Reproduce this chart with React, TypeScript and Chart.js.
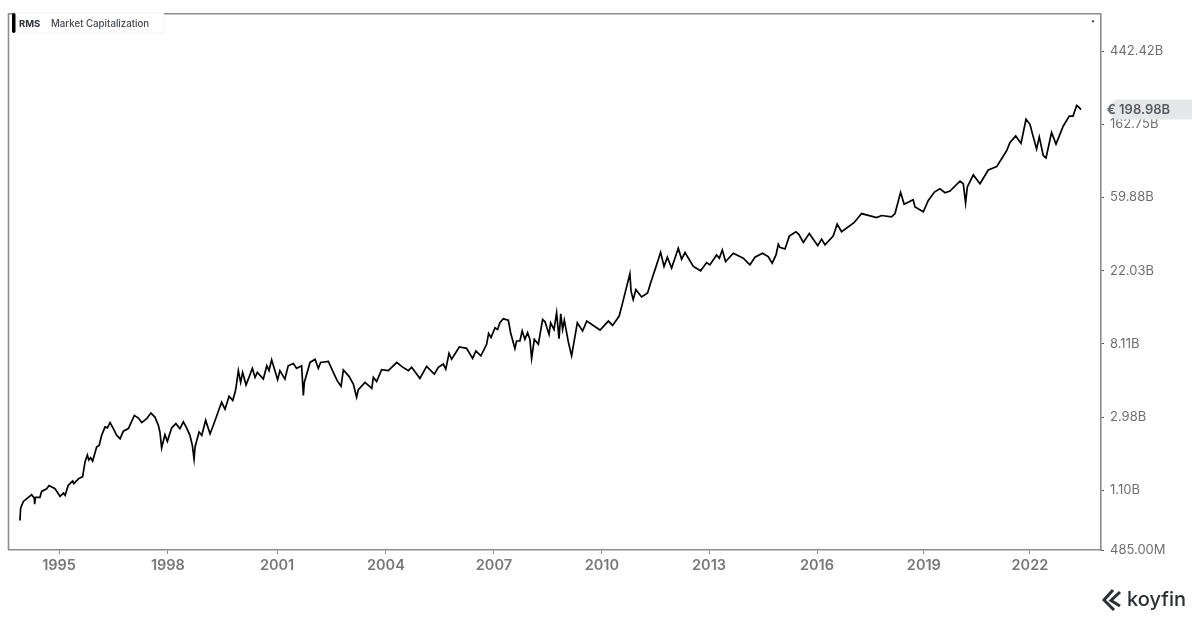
import React, { useEffect, useRef } from 'react';
import { Chart, registerables } from 'chart.js';

Chart.register(...registerables);

// x is the trading session counted from the left edge of the axis
const sessions = [
    80, 85, 104, 139, 162, 181, 183, 188, 220, 232, 267, 284, 326, 361, 384, 396, 418, 449, 458, 489,
    519, 536, 552, 562, 575, 589, 617, 635, 652, 676, 692, 711, 734, 757, 781, 804, 839, 881, 909, 933,
    967, 997, 1025, 1049, 1060, 1072, 1095, 1112, 1142, 1172, 1200, 1224, 1247, 1270, 1287, 1299, 1306, 1334, 1353, 1380,
    1411, 1434, 1469, 1492, 1516, 1544, 1570, 1586, 1593, 1609, 1625, 1639, 1663, 1707, 1726, 1742, 1784, 1808, 1824, 1842,
    1884, 1900, 1935, 1958, 1994, 2017, 2052, 2064, 2071, 2111, 2146, 2169, 2185, 2239, 2274, 2301, 2328, 2344, 2384, 2414,
    2437, 2449, 2496, 2543, 2554, 2577, 2612, 2659, 2718, 2752, 2799, 2822, 2880, 2927, 2981, 3009, 3044, 3061, 3084, 3102,
    3156, 3207, 3249, 3272, 3307, 3347, 3361, 3378, 3406, 3424, 3440, 3464, 3499, 3515, 3545, 3557, 3580, 3596, 3615, 3634,
    3650, 3662, 3681, 3709, 3739, 3756, 3784, 3795, 3819, 3837, 3854, 3866, 3879, 3891, 3919, 3942, 3982, 4019, 4048, 4141,
    4199, 4229, 4275, 4299, 4350, 4358, 4373, 4392, 4432, 4474, 4495, 4537, 4565, 4589, 4612, 4642, 4689, 4712, 4736, 4794,
    4845, 4887, 4910, 4957, 4976, 4997, 5020, 5074, 5144, 5190, 5225, 5279, 5318, 5346, 5373, 5389, 5400, 5436, 5466, 5512,
    5534, 5564, 5606, 5665, 5692, 5716, 5773, 5801, 5832, 5919, 5972, 6077, 6112, 6182, 6206, 6245, 6270, 6333, 6346, 6404,
    6439, 6482, 6520, 6556, 6591, 6661, 6684, 6700, 6712, 6754, 6801, 6859, 6918, 6987, 7011, 7051, 7088, 7123, 7151, 7170,
    7197, 7216, 7244, 7263, 7302, 7333, 7384, 7426, 7452, 7478, 7494, 7508,
];

// market cap in billions of euro
const marketCap = [
    0.725, 0.86, 0.942, 0.996, 1.032, 0.982, 0.908, 0.996, 0.996, 1.08, 1.12, 1.17, 1.12, 1.009, 1.055, 1.023, 1.17, 1.247, 1.202, 1.282,
    1.322, 1.62, 1.773, 1.657, 1.71, 1.635, 1.981, 2.027, 2.323, 2.607, 2.572, 2.763, 2.547, 2.323, 2.219, 2.459, 2.547, 3.05, 2.94, 2.763,
    2.913, 3.147, 2.98, 2.667, 2.43, 1.954, 2.343, 2.142, 2.572, 2.726, 2.547, 2.79, 2.572, 2.323, 2.027, 1.68, 1.981, 2.43, 2.323, 2.85,
    2.374, 2.667, 3.23, 3.65, 3.32, 3.96, 3.735, 4.18, 4.476, 5.62, 4.79, 5.49, 4.62, 5.8, 5.13, 5.49, 5.01, 6.01, 5.62, 6.52,
    4.97, 5.62, 5.01, 6.01, 6.2, 5.8, 6.01, 4.0, 4.79, 6.29, 6.57, 5.8, 6.29, 6.37, 5.49, 4.905, 4.54, 5.67, 5.2, 4.68,
    3.906, 4.34, 4.79, 4.416, 5.13, 4.84, 5.7, 5.62, 6.29, 5.96, 5.62, 5.88, 5.06, 5.96, 5.36, 5.88, 6.15, 5.74, 7.13, 6.57,
    7.77, 7.62, 6.64, 7.36, 6.88, 8.05, 9.35, 8.82, 10.1, 9.87, 10.81, 11.41, 11.21, 9.44, 7.6, 8.43, 8.43, 9.66, 8.62, 9.44,
    8.62, 6.64, 8.62, 8.05, 11.3, 10.96, 9.22, 10.81, 9.87, 12.38, 8.7, 12.21, 9.87, 11.21, 8.32, 6.88, 10.81, 9.66, 11.06, 9.79,
    11.06, 10.42, 11.85, 14.18, 21.1, 16.7, 14.83, 16.98, 15.38, 16.24, 18.6, 23.84, 28.3, 23.33, 26.47, 22.8, 29.9, 25.76, 28.2, 23.33,
    21.98, 24.6, 23.84, 27.31, 26.1, 29.2, 24.97, 27.95, 26.1, 23.84, 26.47, 27.95, 26.7, 24.4, 27.31, 31.6, 30.3, 29.6, 35.3, 37.5,
    36.1, 32.4, 36.6, 31.0, 33.9, 31.3, 35.3, 41.6, 37.5, 42.4, 48.05, 45.5, 46.8, 46.0, 48.05, 64.2, 54.5, 58.1, 52.6, 49.2,
    57.5, 64.5, 67.5, 63.9, 65.4, 74.8, 72.2, 55.5, 69.0, 81.5, 72.2, 87.2, 91.2, 113.3, 127, 138.9, 125.3, 174.2, 162.75, 140.8,
    116, 137, 106, 102.7, 145.4, 124.1, 159, 182.2, 182, 210.6, 205, 198.98,
];

const yearTicks = [354, 1116, 1880, 2642, 3398, 4154, 4904, 5660, 6408, 7150];
const yearLabels = ['1995', '1998', '2001', '2004', '2007', '2010', '2013', '2016', '2019', '2022'];

const capTicks = [442.42, 162.75, 59.88, 22.03, 8.11, 2.98, 1.1, 0.485];
const capLabels = ['442.42B', '162.75B', '59.88B', '22.03B', '8.11B', '2.98B', '1.10B', '485.00M'];

const lastLabel = '€ 198.98B';
const FONT = 'Inter, "Noto Sans", sans-serif';

// frame, last value tag, legend and logo
const decorations = {
    id: 'decorations',
    afterDatasetsDraw(chart: Chart) {
        const { ctx, chartArea: a } = chart;
        ctx.save();

        ctx.strokeStyle = '#8c8c8c';
        ctx.lineWidth = 1.6;
        ctx.beginPath();
        ctx.moveTo(a.left, a.bottom);
        ctx.lineTo(a.left, a.top);
        ctx.lineTo(a.right, a.top);
        ctx.stroke();

        // last value tag
        const y = chart.scales.y.getPixelForValue(marketCap[marketCap.length - 1]);
        ctx.fillStyle = '#e6e7e8';
        ctx.beginPath();
        ctx.moveTo(1105, y);
        ctx.lineTo(1115, y - 10);
        ctx.lineTo(1192, y - 10);
        ctx.lineTo(1192, y + 10);
        ctx.lineTo(1115, y + 10);
        ctx.closePath();
        ctx.fill();
        ctx.fillStyle = '#555a5f';
        ctx.font = `600 13px ${FONT}`;
        ctx.textAlign = 'left';
        ctx.textBaseline = 'middle';
        ctx.fillText(lastLabel, 1107, y + 1);

        // legend
        ctx.strokeStyle = '#f0f0f0';
        ctx.lineWidth = 1;
        ctx.fillStyle = '#ffffff';
        ctx.beginPath();
        ctx.roundRect(13, 13, 151, 20, 2);
        ctx.fill();
        ctx.stroke();
        ctx.fillStyle = '#000000';
        ctx.beginPath();
        ctx.roundRect(12, 13, 3.5, 20, 2);
        ctx.fill();
        ctx.fillStyle = '#2f3338';
        ctx.font = `700 9.5px ${FONT}`;
        ctx.fillText('RMS', 19, 24);
        ctx.font = `500 9.7px ${FONT}`;
        ctx.fillStyle = '#44484d';
        ctx.fillText('Market Capitalization', 51, 24);

        // logo
        ctx.strokeStyle = '#2b2f33';
        ctx.lineWidth = 3;
        ctx.lineJoin = 'miter';
        ctx.beginPath();
        ctx.moveTo(1113, 590);
        ctx.lineTo(1104, 600);
        ctx.lineTo(1114, 610);
        ctx.moveTo(1120, 592);
        ctx.lineTo(1111, 600.5);
        ctx.lineTo(1120, 606);
        ctx.stroke();
        ctx.fillStyle = '#2b2f33';
        ctx.font = `500 20px ${FONT}`;
        ctx.textBaseline = 'alphabetic';
        ctx.fillText('koyfin', 1127, 606);

        ctx.restore();
    },
};

const App: React.FC = () => {
    const chartRef = useRef<HTMLCanvasElement | null>(null);

    useEffect(() => {
        const ctx = chartRef.current?.getContext('2d');

        if (!ctx) {
            return;
        }

        const myChart = new Chart(ctx, {
            type: 'line',
            data: {
                datasets: [
                    {
                        label: 'RMS Market Capitalization',
                        data: sessions.map((s, i) => ({ x: s, y: marketCap[i] })),
                        borderColor: '#000000',
                        borderWidth: 1.7,
                        pointRadius: 0,
                        tension: 0,
                    },
                    {
                        label: 'stray',
                        data: [{ x: 7592, y: 664 }],
                        borderColor: '#333333',
                        backgroundColor: '#333333',
                        pointRadius: 0.7,
                        showLine: false,
                    },
                ],
            },
            plugins: [decorations],
            options: {
                responsive: false,
                animation: false,
                layout: { padding: { left: 8.5, top: 8.5, right: 0, bottom: 0 } },
                plugins: {
                    legend: { display: false },
                    tooltip: { enabled: false },
                },
                scales: {
                    x: {
                        type: 'linear',
                        min: 0,
                        max: 7648,
                        afterBuildTicks: (scale) => {
                            scale.ticks = yearTicks.map((value) => ({ value }));
                        },
                        afterFit: (scale) => {
                            scale.height = 70;
                        },
                        border: { color: '#8c8c8c', width: 1.6 },
                        grid: { drawOnChartArea: false, color: '#8c8c8c', tickLength: 4 },
                        ticks: {
                            autoSkip: false,
                            maxRotation: 0,
                            padding: 3,
                            color: '#777777',
                            font: { family: FONT, size: 14.5, weight: 600 },
                            callback: (value) => yearLabels[yearTicks.indexOf(Number(value))],
                        },
                    },
                    y: {
                        type: 'logarithmic',
                        position: 'right',
                        min: 0.485,
                        max: 736,
                        afterBuildTicks: (scale) => {
                            scale.ticks = capTicks.map((value) => ({ value }));
                        },
                        afterFit: (scale) => {
                            scale.width = 99;
                        },
                        border: { color: '#8c8c8c', width: 1.6 },
                        grid: { drawOnChartArea: false, color: '#555555', tickLength: 3 },
                        ticks: {
                            autoSkip: false,
                            padding: 6,
                            color: '#6f6f6f',
                            font: { family: FONT, size: 13 },
                            callback: (value) => capLabels[capTicks.indexOf(Number(value))],
                        },
                    },
                },
            },
        });

        return () => {
            myChart.destroy();
        };
    }, []);

    return (
        <div style={{ position: 'absolute', left: 0, top: 0, width: 1200, height: 620, background: '#ffffff' }}>
            <canvas ref={chartRef} width={1200} height={620} />
        </div>
    );
};

export default App;
